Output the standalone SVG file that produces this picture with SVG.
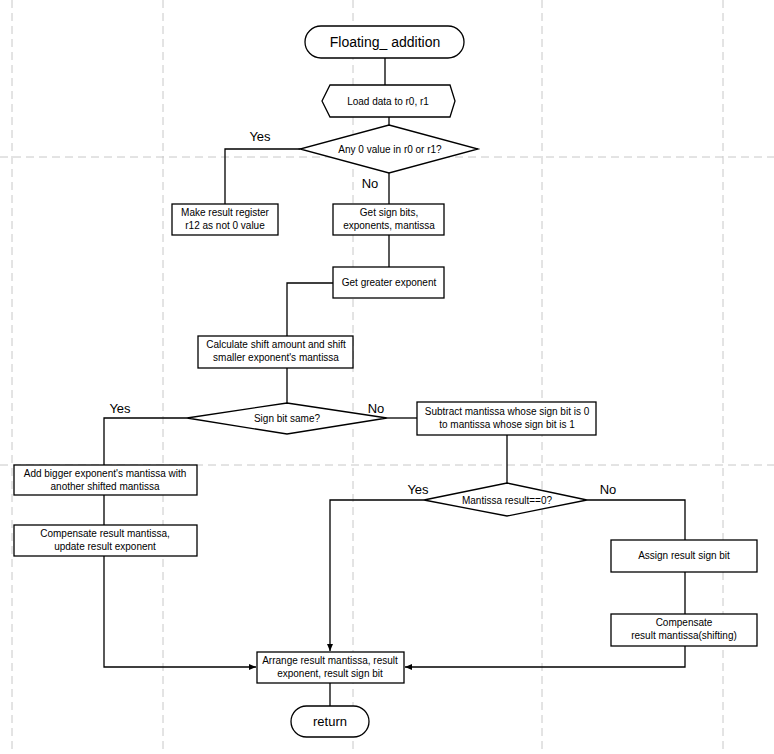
<svg xmlns="http://www.w3.org/2000/svg" width="774" height="754" viewBox="0 0 774 754">
<defs>
<marker id="a" markerWidth="8" markerHeight="8" refX="7" refY="4" orient="auto" markerUnits="userSpaceOnUse"><path d="M0,1 L7,4 L0,7 Z" fill="#000"/></marker>
<style>
.g{stroke:#c8c8c8;stroke-width:1;stroke-dasharray:8,5;fill:none}
.s{fill:#fff;stroke:#000;stroke-width:1.3}
.c{fill:none;stroke:#000;stroke-width:1.3}
text{font-family:"Liberation Sans",Arial,sans-serif;font-size:10px;text-anchor:middle;fill:#000}
.b{font-size:14px}
.l{font-size:13px}
</style>
</defs>
<rect width="774" height="754" fill="#fff"/>
<g id="grid">
<path class="g" d="M12,0V754M163,0V754M353,0V754M542,0V754M723,0V754M0,157H774M0,465H774"/>
</g>
<g id="connectors">
<path class="c" d="M385,58V85M389,117V125"/>
<path class="c" d="M300,149H225V204"/>
<path class="c" d="M389,173V204M389,235V267"/>
<path class="c" d="M333,283H287V336M287,368V403"/>
<path class="c" d="M187,418H104V465M104,495V525"/>
<path class="c" d="M387,418H417"/>
<path class="c" d="M507,435V483"/>
<path class="c" d="M424,500H330V651" marker-end="url(#a)"/>
<path class="c" d="M587,500H685V540M685,572V614"/>
<path class="c" d="M685,646V667H405" marker-end="url(#a)"/>
<path class="c" d="M104,556V667H256" marker-end="url(#a)"/>
<path class="c" d="M330,683V706"/>
<text class="l" x="260" y="141">Yes</text>
<text class="l" x="370" y="188">No</text>
<text class="l" x="120" y="413">Yes</text>
<text class="l" x="376" y="413">No</text>
<text class="l" x="418" y="494">Yes</text>
<text class="l" x="608" y="494">No</text>
</g>
<g id="start"><rect class="s" x="305" y="26" width="159" height="32" rx="16"/><text class="b" x="385" y="47">Floating_ addition</text></g>
<g id="load"><path class="s" d="M330,85H450L455,101L450,117H330L322,101Z"/><text x="388" y="105">Load data to r0, r1</text></g>
<g id="zero"><path class="s" d="M389,125L478,149L389,173L300,149Z"/><text x="390" y="153">Any 0 value in r0 or r1?</text></g>
<g id="make"><rect class="s" x="172" y="204" width="106" height="31"/><text x="225" y="216">Make result register</text><text x="225" y="229">r12 as not 0 value</text></g>
<g id="getsign"><rect class="s" x="333" y="204" width="111" height="31"/><text x="389" y="216">Get sign bits,</text><text x="389" y="229">exponents, mantissa</text></g>
<g id="greater"><rect class="s" x="333" y="267" width="111" height="31"/><text x="389" y="286">Get greater exponent</text></g>
<g id="calc"><rect class="s" x="198" y="336" width="155" height="32"/><text x="276" y="348">Calculate shift amount and shift</text><text x="276" y="361">smaller exponent's mantissa</text></g>
<g id="signsame"><path class="s" d="M287,403L387,418L287,434L187,418Z"/><text x="287" y="422">Sign bit same?</text></g>
<g id="subtract"><rect class="s" x="417" y="402" width="179" height="33"/><text x="507" y="415">Subtract mantissa whose sign bit is 0</text><text x="507" y="428">to mantissa whose sign bit is 1</text></g>
<g id="add"><rect class="s" x="14" y="465" width="183" height="30"/><text x="105" y="477">Add bigger exponent's mantissa with</text><text x="105" y="490">another shifted mantissa</text></g>
<g id="comp1"><rect class="s" x="14" y="525" width="183" height="31"/><text x="105" y="537">Compensate result mantissa,</text><text x="105" y="550">update result exponent</text></g>
<g id="mzero"><path class="s" d="M507,483L587,500L507,516L424,500Z"/><text x="507" y="504">Mantissa result==0?</text></g>
<g id="assign"><rect class="s" x="611" y="540" width="146" height="32"/><text x="684" y="559">Assign result sign bit</text></g>
<g id="comp2"><rect class="s" x="611" y="614" width="146" height="32"/><text x="684" y="626">Compensate</text><text x="684" y="639">result mantissa(shifting)</text></g>
<g id="arrange"><rect class="s" x="257" y="652" width="147" height="31"/><text x="330" y="664">Arrange result mantissa, result</text><text x="330" y="677">exponent, result sign bit</text></g>
<g id="return"><rect class="s" x="291" y="706" width="78" height="31" rx="15.5"/><text class="l" x="330" y="726">return</text></g>
</svg>
